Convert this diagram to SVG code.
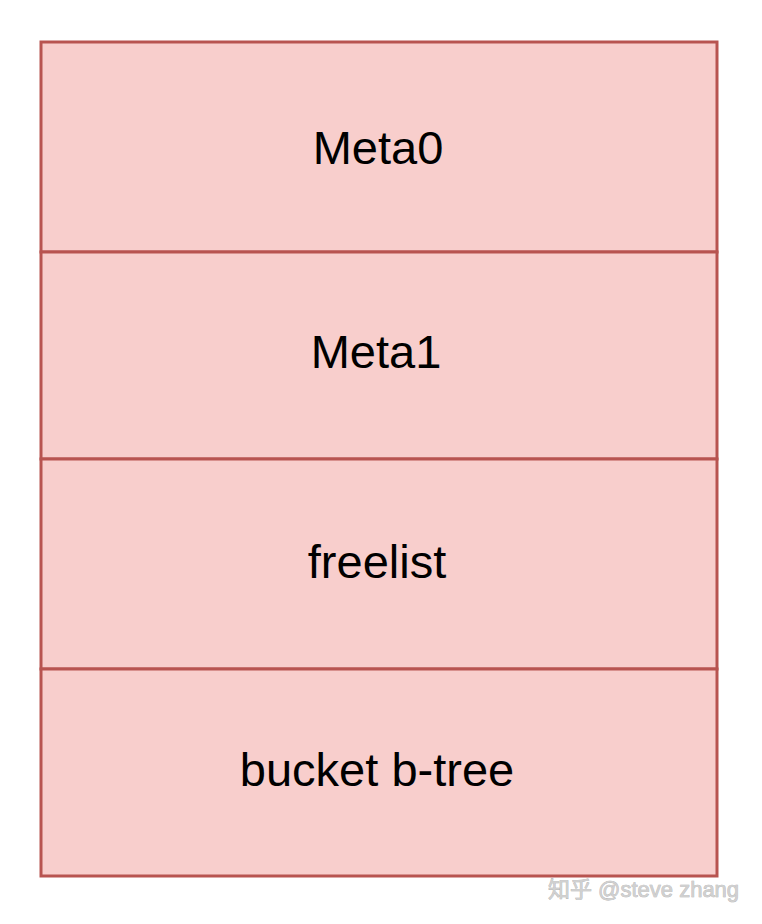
<svg xmlns="http://www.w3.org/2000/svg" width="762" height="924" viewBox="0 0 762 924">
<style>
.box{fill:#f8cecc;stroke:#b85450;stroke-width:3}
.lbl{font-family:"Liberation Sans",Arial,sans-serif;font-size:47px;fill:#000;text-anchor:middle}
.wm{font-family:"Liberation Sans","Noto Sans CJK SC",sans-serif;font-size:22px;fill:#d0d0d0;stroke:#aaaaaa;stroke-width:0.6;paint-order:stroke}
</style>
<rect width="762" height="924" fill="#ffffff"/>
<g id="meta0"><rect class="box" x="41" y="42" width="676" height="210"/><text class="lbl" x="378" y="164">Meta0</text></g>
<g id="meta1"><rect class="box" x="41" y="252" width="676" height="207"/><text class="lbl" x="376" y="368">Meta1</text></g>
<g id="freelist"><rect class="box" x="41" y="459" width="676" height="210"/><text class="lbl" x="377" y="578">freelist</text></g>
<g id="bucket"><rect class="box" x="41" y="669" width="676" height="207"/><text class="lbl" x="377" y="786">bucket b-tree</text></g>
<g id="connectors"></g>
<text class="wm" x="548" y="897">知乎 @steve zhang</text>
</svg>
